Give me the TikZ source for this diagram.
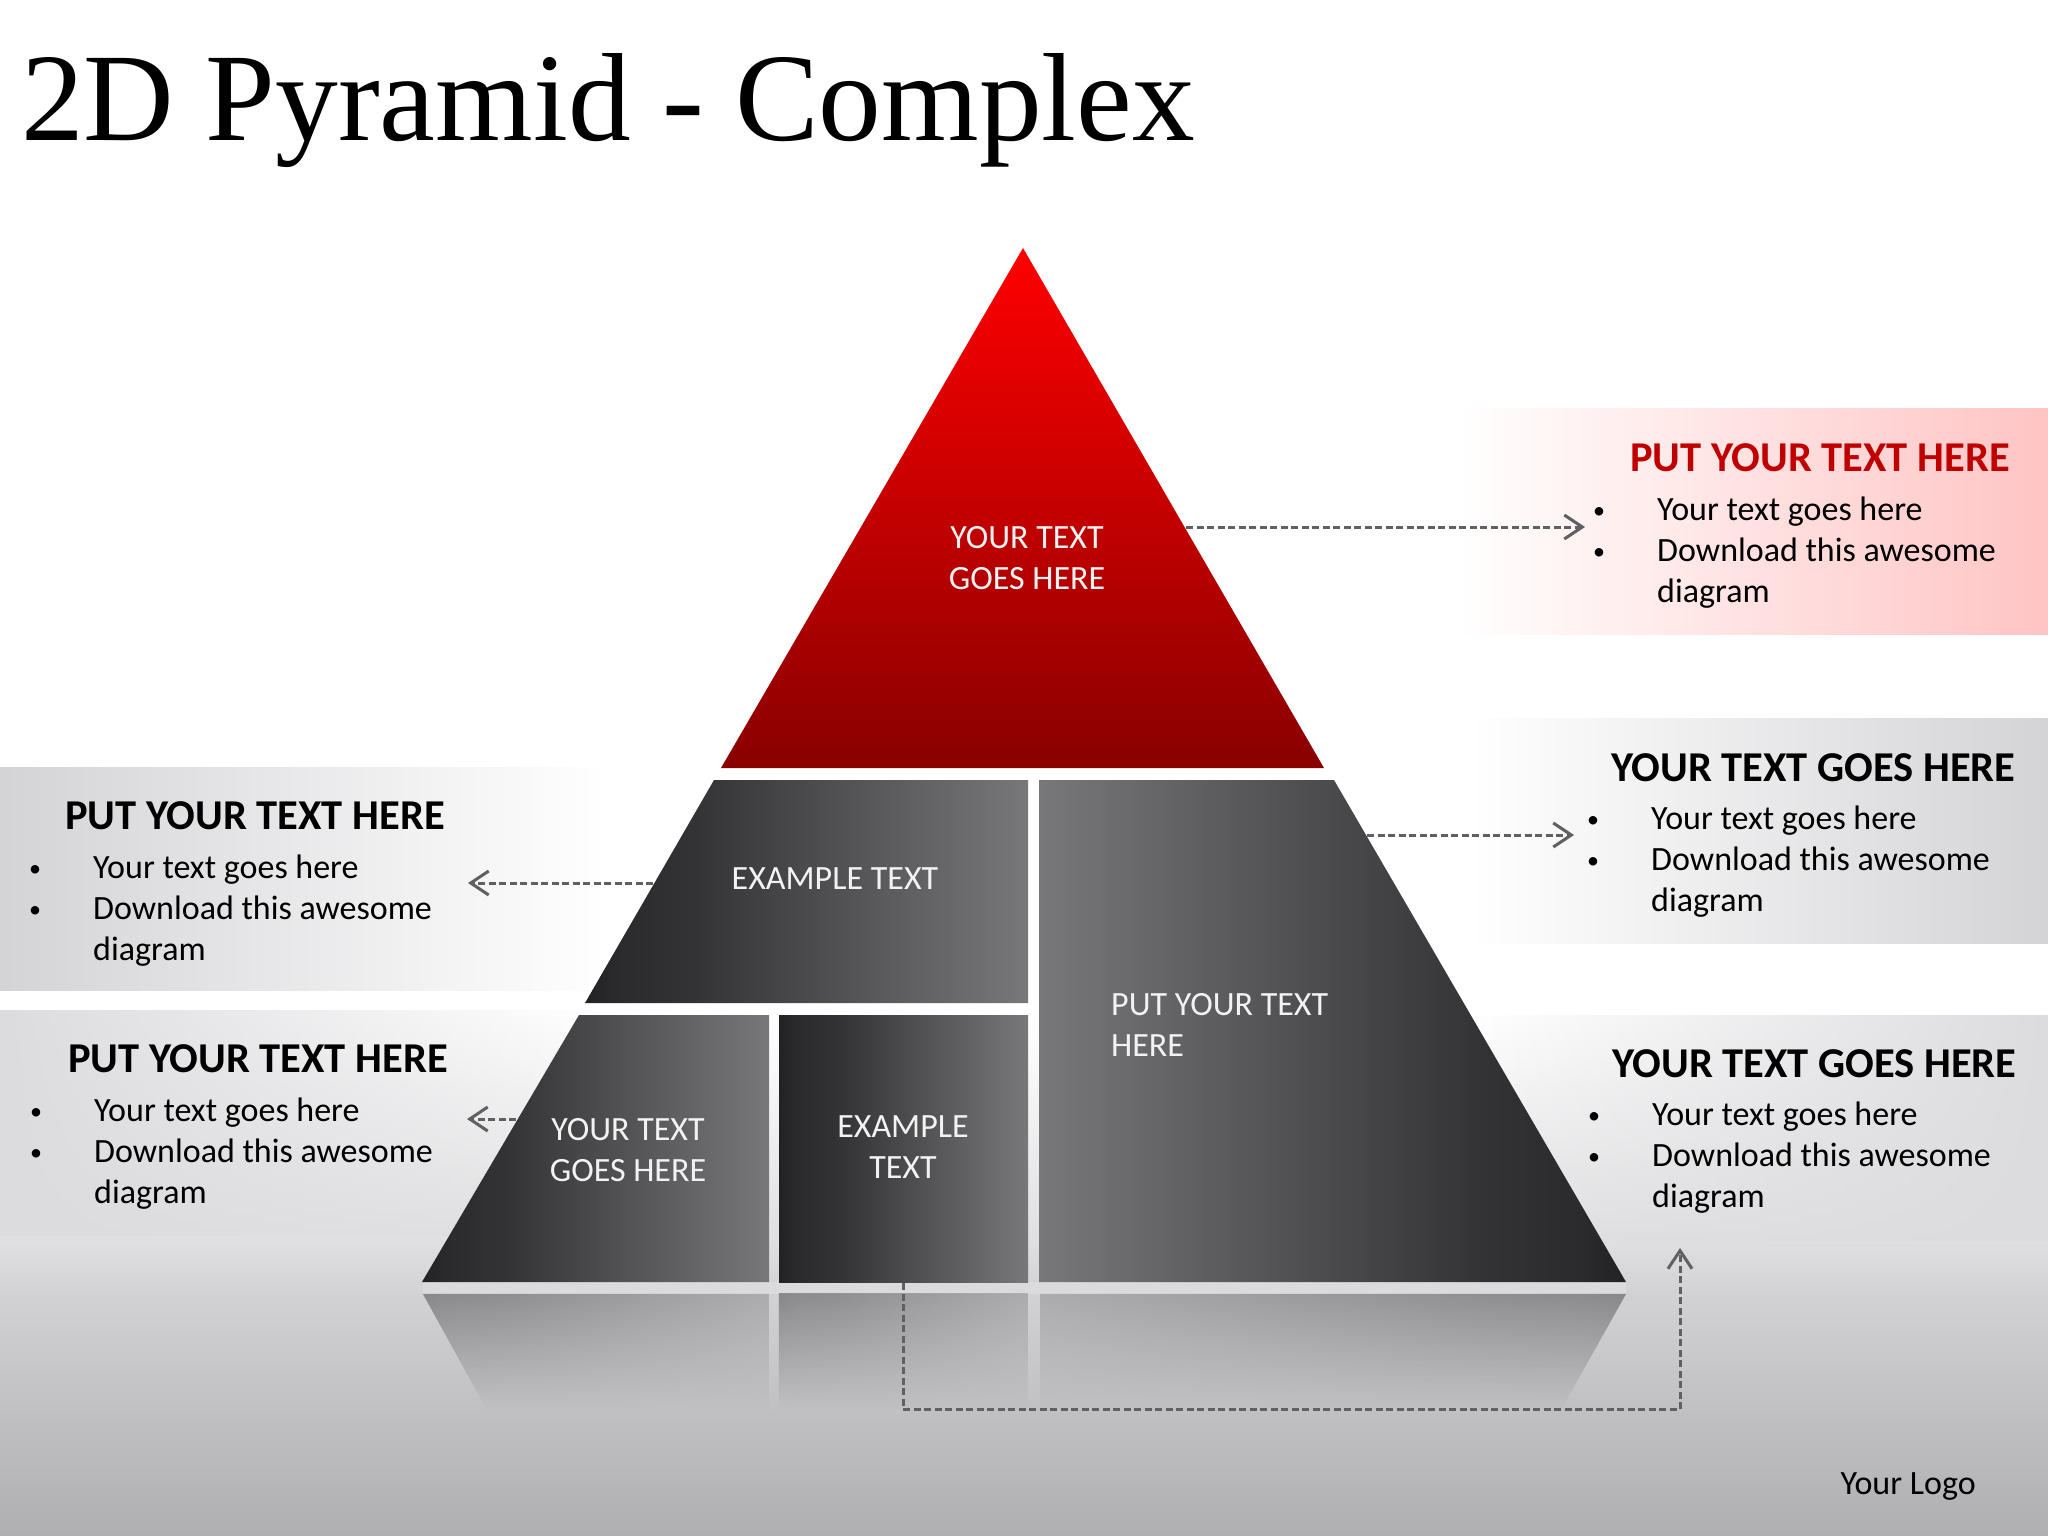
\documentclass[tikz,border=0pt]{standalone}
\usepackage{fontspec}
\setmainfont{Carlito}
\newfontfamily\titlefont{Liberation Serif}
\usetikzlibrary{arrows.meta,fadings}

\definecolor{pyrdark}{HTML}{2B2B2D}
\definecolor{pyrblack}{HTML}{222224}
\definecolor{pyrlight}{HTML}{78787A}
\definecolor{floortop}{HTML}{E0E0E2}
\definecolor{floorpale}{HTML}{D2D2D4}
\definecolor{floormid}{HTML}{C2C2C4}
\definecolor{floorlow}{HTML}{AFAFB1}
\definecolor{shelfgray}{HTML}{DBDBDD}
\definecolor{panelgray}{HTML}{D4D4D7}
\definecolor{panelpale}{HTML}{DCDCDF}
\definecolor{panelpink}{HTML}{FFC4C4}
\definecolor{headred}{HTML}{C00000}
\definecolor{linkgray}{HTML}{606062}
\definecolor{labelwhite}{HTML}{F2F2F2}

% 25bp to 75bp is what the path gets
\pgfdeclarehorizontalshading{darklight}{100bp}{color(0bp)=(pyrblack); color(25bp)=(pyrblack); color(29bp)=(pyrdark); color(37bp)=(pyrdark!90!pyrlight); color(75bp)=(pyrlight); color(100bp)=(pyrlight)}
\pgfdeclarehorizontalshading{lightdark}{100bp}{color(0bp)=(pyrlight); color(25bp)=(pyrlight); color(63bp)=(pyrdark!90!pyrlight); color(71bp)=(pyrdark); color(75bp)=(pyrblack); color(100bp)=(pyrblack)}
\pgfdeclareverticalshading{pagefade}{100bp}{color(0bp)=(floorlow); color(25bp)=(floorlow); color(29.4bp)=(floormid); color(32.9bp)=(floorpale); color(34.7bp)=(floortop); color(42bp)=(white); color(100bp)=(white)}
\tikzfading[name=fadeleft, left color=transparent!100, right color=transparent!0]
\tikzfading[name=faderight, left color=transparent!0, right color=transparent!100]
\tikzfading[name=fadereflect, top color=transparent!58, middle color=transparent!90, bottom color=transparent!100]

\tikzset{
    pagetext/.style={inner sep=0,text=black,font=\fontsize{34pt}{41pt}\selectfont},
    headtext/.style={anchor=west,inner sep=0,font=\fontsize{42.5pt}{48pt}\selectfont\bfseries},
    bodytext/.style={pagetext,anchor=north west,align=left},
    pyrtext/.style={inner sep=0,text=labelwhite,font=\fontsize{34pt}{41pt}\selectfont},
    linkarrow/.style={draw=linkgray,line width=3pt,dash pattern=on 7pt off 3.5pt,-{Straight Barb[length=18pt,width=24pt,line width=3pt]}},
}

\newcommand{\bulletdot}{\makebox[59pt][l]{\hspace{-5pt}\raisebox{2pt}{\fontsize{24pt}{24pt}\selectfont •}}}
\newcommand{\bulletlines}{%
    \bulletdot Your text goes here\\
    \bulletdot Download this awesome\\
    \hspace*{59pt}diagram}

\begin{document}
\begin{tikzpicture}[x=1pt,y=-1pt]
    \useasboundingbox (0,0) rectangle (2048,1536);
    \shade[shading=pagefade] (0,0) rectangle (2048,1536);

    % side panels
    \fill[panelpink,path fading=fadeleft] (1463,408) rectangle (2050,635);
    \fill[panelgray,path fading=fadeleft] (1476,718) rectangle (2050,944);
    \fill[panelpale,path fading=fadeleft] (1476,1015) rectangle (2050,1241);
    \fill[panelgray,path fading=faderight] (0,767) rectangle (600,991);
    \fill[panelpale,path fading=faderight] (0,1010) rectangle (600,1236);

    % reflection on the floor
    \fill[shelfgray] (423,1282) rectangle (1626,1294);
    \shade[shading=darklight,path fading=fadereflect] (423,1294) -- (769,1294) -- (769,1410) -- (487,1410) -- cycle;
    \shade[shading=darklight,path fading=fadereflect] (779,1294) -- (1028,1294) -- (1028,1410) -- (779,1410) -- cycle;
    \shade[shading=lightdark,path fading=fadereflect] (1040,1294) -- (1626,1294) -- (1561,1410) -- (1040,1410) -- cycle;

    % pyramid
    \shade[top color=red,bottom color=red!54!black] (1023,248) -- (1324,768) -- (721,768) -- cycle;
    \shade[shading=darklight] (714,780) -- (1028,780) -- (1028,1003) -- (585,1003) -- cycle;
    \shade[shading=darklight] (579,1015) -- (769,1015) -- (769,1282) -- (422,1282) -- cycle;
    \shade[shading=darklight] (779,1015) -- (1028,1015) -- (1028,1282) -- (779,1282) -- cycle;
    \shade[shading=lightdark] (1039,780) -- (1334,780) -- (1626,1282) -- (1039,1282) -- cycle;

    \node[pyrtext,align=center] (toplabel) at (1027,558) {YOUR TEXT\\GOES HERE};
    \node[pyrtext] (examplewide) at (835,879) {EXAMPLE TEXT};
    \node[pyrtext,align=left,anchor=west] (bigblock) at (1111,1025) {PUT YOUR TEXT\\HERE};
    \node[pyrtext,align=center] (cornerblock) at (628,1150) {YOUR TEXT\\GOES HERE};
    \node[pyrtext,align=center] (exampleblock) at (903,1147) {EXAMPLE\\TEXT};

    \node[anchor=west,inner sep=0,font=\titlefont\fontsize{125.4pt}{130pt}\selectfont] (title) at (21,111) {2D Pyramid - Complex};
    \node[pagetext,anchor=east] (logo) at (1976,1486) {Your Logo};

    \node[headtext,text=headred] (redhead) at (1630,458) {PUT YOUR TEXT HERE};
    \node[bodytext] (redbody) at (1598,497) {\bulletlines};
    \node[headtext] (righthead) at (1611,768) {YOUR TEXT GOES HERE};
    \node[bodytext] (rightbody) at (1592,806) {\bulletlines};
    \node[headtext] (lowhead) at (1612,1064) {YOUR TEXT GOES HERE};
    \node[bodytext] (lowbody) at (1593,1102) {\bulletlines};
    \node[headtext] (lefthead) at (65,816) {PUT YOUR TEXT HERE};
    \node[bodytext] (leftbody) at (34,855) {\bulletlines};
    \node[headtext] (cornerhead) at (68,1059) {PUT YOUR TEXT HERE};
    \node[bodytext] (cornerbody) at (35,1098) {\bulletlines};

    % connectors
    \coordinate (redout) at (1186,527);
    \coordinate (redend) at (1585,527);
    \coordinate (rightout) at (1367,835);
    \coordinate (rightend) at (1574,835);
    \coordinate (leftout) at (653,883);
    \coordinate (leftend) at (468,883);
    \coordinate (cornerout) at (516,1119);
    \coordinate (cornerend) at (467,1119);
    \coordinate (blockout) at (903,1283);
    \coordinate (blockend) at (1680,1248);
    \draw[linkarrow] (redout) -- (redend);
    \draw[linkarrow] (rightout) -- (rightend);
    \draw[linkarrow] (leftout) -- (leftend);
    \draw[linkarrow] (cornerout) -- (cornerend);
    \draw[linkarrow] (blockout) -- (903,1409) -- (1680,1409) -- (blockend);
\end{tikzpicture}
\end{document}
